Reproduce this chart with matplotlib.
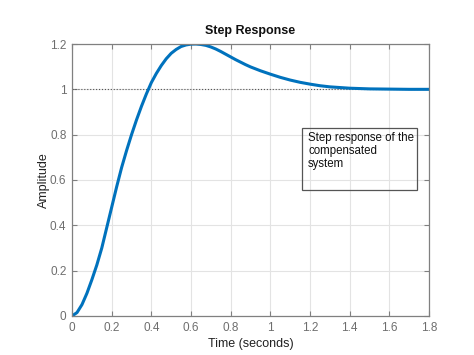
import matplotlib

matplotlib.use("Agg")
import matplotlib.pyplot as plt
from matplotlib.patches import Rectangle

# step response samples
time_s = [0.0, 0.025, 0.05, 0.075, 0.1, 0.125, 0.15, 0.175, 0.2, 0.225,
          0.25, 0.275, 0.3, 0.325, 0.35, 0.375, 0.4, 0.425, 0.45, 0.475,
          0.5, 0.525, 0.55, 0.575, 0.6, 0.625, 0.65, 0.675, 0.7, 0.725,
          0.75, 0.775, 0.8, 0.825, 0.85, 0.875, 0.9, 0.95, 1.0, 1.05,
          1.1, 1.15, 1.2, 1.25, 1.3, 1.35, 1.4, 1.5, 1.6, 1.7, 1.8]
amplitude = [0.0, 0.015, 0.05, 0.10, 0.16, 0.225, 0.30, 0.39, 0.48, 0.57,
             0.655, 0.73, 0.80, 0.865, 0.925, 0.98, 1.03, 1.07, 1.105, 1.135,
             1.159, 1.176, 1.189, 1.196, 1.1995, 1.2, 1.198, 1.194, 1.187, 1.178,
             1.167, 1.155, 1.143, 1.131, 1.12, 1.109, 1.099, 1.082, 1.067, 1.053,
             1.041, 1.031, 1.023, 1.016, 1.011, 1.008, 1.005, 1.002, 1.001, 1.0, 1.0]
final_value = 1.0
x_ticks = [0, 0.2, 0.4, 0.6, 0.8, 1, 1.2, 1.4, 1.6, 1.8]
y_ticks = [0, 0.2, 0.4, 0.6, 0.8, 1, 1.2]
note = "Step response of the\ncompensated\nsystem"

plt.rcParams["font.family"] = ["Liberation Sans", "DejaVu Sans"]
AX_GRAY = "#808080"

fig = plt.figure(figsize=(4.74, 3.55), dpi=100)
ax = fig.add_axes([0.152, 0.110, 0.753, 0.766])

ax.plot([0, 1.8], [final_value, final_value], ":", color="#555555", lw=0.8)
ax.plot(time_s, amplitude, color="#0072BD", lw=2.2,
        solid_capstyle="round", solid_joinstyle="round")

ax.set_xlim(0, 1.8)
ax.set_ylim(0, 1.2)
ax.set_xticks(x_ticks, [f"{v:g}" for v in x_ticks])
ax.set_yticks(y_ticks, [f"{v:g}" for v in y_ticks])
ax.grid(True, color="#e3e3e3", lw=0.8)
ax.set_axisbelow(True)
ax.tick_params(direction="in", length=3.5, width=0.8, colors=AX_GRAY,
               labelcolor="#6e6e6e", labelsize=8.5, top=True, right=True, pad=4)
for side in ax.spines.values():
    side.set_color(AX_GRAY)
    side.set_linewidth(0.9)

ax.set_xlabel("Time (seconds)", fontsize=9, color="#222222", labelpad=3)
ax.set_ylabel("Amplitude", fontsize=9, color="#222222", labelpad=0)
ax.set_title("Step Response", fontsize=9, fontweight="bold", color="#111111", pad=7)

# annotation box
ax.add_patch(Rectangle((1.158, 0.556), 0.582, 0.273, fill=False,
                       edgecolor="#555555", lw=0.9, zorder=5))
ax.text(1.19, 0.81, note, fontsize=8.3, color="#111111", va="top", ha="left",
        linespacing=1.1, zorder=6)

fig.savefig("out.png", dpi=100)
